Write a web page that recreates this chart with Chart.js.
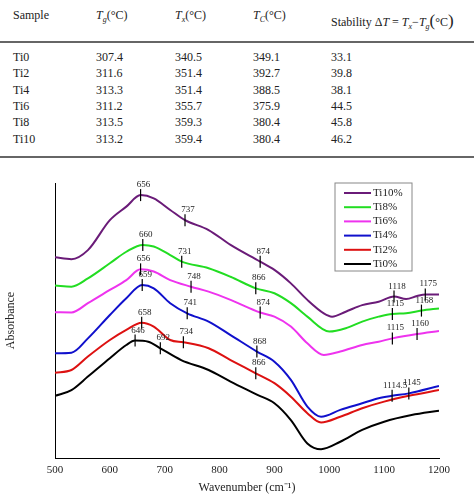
<!DOCTYPE html>
<html>
<head>
<meta charset="utf-8">
<script src="https://cdn.jsdelivr.net/npm/chart.js@4"></script>
<style>
  body { margin: 0; width: 474px; height: 495px; background: #fff; font-family: "Liberation Serif", serif; color: #222; position: relative; overflow: hidden; }
  .t { position: absolute; font-size: 12px; white-space: nowrap; }
  .rule { position: absolute; left: 0; width: 474px; height: 2px; background: #666; }
  #wrap { position: absolute; left: 0; top: 160px; width: 474px; height: 335px; }
</style>
</head>
<body>
<div id="table"></div>
<div class="rule" style="top:41px"></div>
<div class="rule" style="top:156px"></div>
<div id="wrap"><canvas id="c"></canvas></div>
<script>
// table data
const samples = ['Ti0', 'Ti2', 'Ti4', 'Ti6', 'Ti8', 'Ti10'];
const tg = ['307.4', '311.6', '313.3', '311.2', '313.5', '313.2'];
const tx = ['340.5', '351.4', '351.4', '355.7', '359.3', '359.4'];
const tc = ['349.1', '392.7', '388.5', '375.9', '380.4', '380.4'];
const dT = ['33.1', '39.8', '38.1', '44.5', '45.8', '46.2'];

// spectra (arbitrary absorbance units)
const ti10X = [500, 530, 560, 600, 630, 656, 680, 710, 737, 780, 820, 874, 900, 930, 960, 990, 1005, 1030, 1060, 1090, 1118, 1140, 1160, 1175, 1200];
const ti10Y = [73.0, 72.3, 75.6, 86.5, 91.4, 95.6, 94.4, 90.2, 86.5, 82.9, 77.5, 71.4, 68.4, 63.5, 57.5, 52.6, 51.4, 53.2, 55.6, 56.8, 58.7, 57.8, 58.9, 59.5, 59.5];
const ti8X = [500, 530, 560, 600, 630, 660, 680, 710, 731, 780, 820, 866, 900, 930, 960, 1000, 1030, 1060, 1090, 1115, 1140, 1168, 1200];
const ti8Y = [62.7, 62.3, 65.3, 70.8, 75.0, 77.5, 76.9, 73.8, 71.4, 69.0, 65.9, 61.7, 59.9, 56.3, 51.4, 46.0, 47.2, 49.6, 51.4, 52.4, 52.6, 53.6, 54.4];
const ti6X = [500, 530, 560, 600, 630, 656, 680, 710, 748, 780, 820, 874, 900, 930, 960, 990, 1020, 1060, 1090, 1115, 1160, 1200];
const ti6Y = [53.0, 52.9, 56.3, 61.1, 64.7, 68.6, 67.8, 64.7, 62.3, 60.5, 57.5, 52.9, 51.4, 47.8, 41.7, 37.5, 38.7, 41.1, 42.3, 43.5, 45.1, 46.2];
const ti4X = [500, 530, 560, 600, 630, 659, 680, 710, 741, 780, 820, 868, 900, 930, 960, 985, 1020, 1060, 1090, 1114.5, 1145, 1200];
const ti4Y = [38.1, 38.3, 43.5, 52.0, 58.1, 62.9, 61.7, 56.3, 52.6, 49.6, 44.7, 38.7, 35.0, 28.4, 18.7, 15.0, 17.5, 19.9, 21.7, 22.6, 23.5, 26.2];
const ti2X = [500, 530, 560, 600, 630, 658, 680, 710, 734, 780, 820, 866, 900, 930, 960, 985, 1020, 1060, 1100, 1145, 1200];
const ti2Y = [31.0, 32.0, 36.9, 42.9, 46.6, 49.2, 47.8, 42.9, 42.1, 39.9, 35.6, 30.8, 27.2, 22.3, 16.3, 12.9, 15.0, 18.1, 20.5, 22.6, 24.7];
const ti0X = [500, 530, 560, 600, 630, 646, 670, 692, 730, 780, 820, 870, 900, 930, 960, 985, 1020, 1060, 1100, 1150, 1200];
const ti0Y = [22.6, 24.7, 29.6, 36.3, 41.1, 42.7, 42.3, 39.9, 35.6, 32.0, 27.8, 22.9, 19.9, 13.8, 5.3, 3.2, 5.9, 10.2, 13.2, 15.6, 17.2];

// marked peaks per series
const ti10Peaks = [656, 737, 874, 1118, 1175];
const ti8Peaks = [660, 731, 866, 1115, 1168];
const ti6Peaks = [656, 748, 874, 1115, 1160];
const ti4Peaks = [659, 741, 868, 1114.5, 1145];
const ti2Peaks = [658, 734, 866];
const ti0Peaks = [646, 692];

const seriesNames = ['Ti10%', 'Ti8%', 'Ti6%', 'Ti4%', 'Ti2%', 'Ti0%'];
const colors = ['#6a1b78', '#22dd22', '#ee33ee', '#1010cc', '#dd1111', '#000000'];
const xs = [ti10X, ti8X, ti6X, ti4X, ti2X, ti0X];
const ys = [ti10Y, ti8Y, ti6Y, ti4Y, ti2Y, ti0Y];
const peaks = [ti10Peaks, ti8Peaks, ti6Peaks, ti4Peaks, ti2Peaks, ti0Peaks];

// build table
const cols = [13, 96, 175, 253, 331];
let html = '';
const hdr = ['Sample', '<i>T<sub style="font-size:8px">g</sub></i>(°C)', '<i>T<sub style="font-size:8px">x</sub></i>(°C)', '<i>T<sub style="font-size:8px">C</sub></i>(°C)',
  'Stability Δ<i>T</i> = <i>T<sub style="font-size:8px">x</sub></i>−<i>T<sub style="font-size:8px">g</sub></i><span style="font-size:17px">(</span>°C<span style="font-size:17px">)</span>'];
hdr.forEach((h, i) => { html += `<div class="t" style="left:${cols[i]}px;top:${i === 4 ? 11 : 8}px">${h}</div>`; });
samples.forEach((s, r) => {
  const row = [s, tg[r], tx[r], tc[r], dT[r]];
  row.forEach((v, i) => { html += `<div class="t" style="left:${cols[i]}px;top:${50 + r * 16.3}px">${v}</div>`; });
});
document.getElementById('table').innerHTML = html;

function interp(xa, ya, x) {
  for (let i = 1; i < xa.length; i++) {
    if (x <= xa[i]) {
      const t = (x - xa[i - 1]) / (xa[i] - xa[i - 1]);
      return ya[i - 1] + t * (ya[i] - ya[i - 1]);
    }
  }
  return ya[ya.length - 1];
}

const peakPlugin = {
  id: 'peaks',
  afterDatasetsDraw(chart) {
    const ctx = chart.ctx, sx = chart.scales.x, sy = chart.scales.y;
    ctx.save();
    ctx.strokeStyle = '#000';
    ctx.fillStyle = '#222';
    ctx.lineWidth = 1.2;
    ctx.font = '9px "Liberation Serif"';
    ctx.textAlign = 'center';
    peaks.forEach((pk, s) => {
      pk.forEach(p => {
        const px = sx.getPixelForValue(p);
        const py = sy.getPixelForValue(interp(xs[s], ys[s], p));
        ctx.beginPath();
        ctx.moveTo(px, py - 6);
        ctx.lineTo(px, py + 6);
        ctx.stroke();
        ctx.fillText(String(p), px + 3, py - 8);
      });
    });
    // legend box
    const lx = 335, ly = 23, lw = 77, lh = 88;
    ctx.strokeStyle = '#888';
    ctx.lineWidth = 1;
    ctx.strokeRect(lx, ly, lw, lh);
    ctx.font = '11px "Liberation Serif"';
    ctx.textAlign = 'left';
    ctx.textBaseline = 'middle';
    seriesNames.forEach((n, i) => {
      const yy = ly + 10 + i * 14.2;
      ctx.strokeStyle = colors[i];
      ctx.lineWidth = 2;
      ctx.beginPath();
      ctx.moveTo(lx + 9, yy);
      ctx.lineTo(lx + 36, yy);
      ctx.stroke();
      ctx.fillStyle = '#222';
      ctx.fillText(n, lx + 38, yy);
    });
    ctx.restore();
  }
};

new Chart(document.getElementById('c'), {
  type: 'line',
  data: {
    datasets: seriesNames.map((n, i) => ({
      label: n,
      data: xs[i].map((x, j) => ({ x: x, y: ys[i][j] })),
      borderColor: colors[i],
      borderWidth: 2,
      pointRadius: 0,
      cubicInterpolationMode: 'monotone',
      fill: false
    }))
  },
  options: {
    responsive: true,
    maintainAspectRatio: false,
    animation: false,
    layout: { padding: { top: 23, right: 35 } },
    plugins: { legend: { display: false }, tooltip: { enabled: false } },
    scales: {
      x: {
        type: 'linear', min: 500, max: 1200,
        grid: { display: false, drawTicks: true, tickLength: 4 },
        border: { color: '#000', width: 1 },
        ticks: { stepSize: 100, color: '#222', font: { family: 'Liberation Serif', size: 11 }, padding: 2, callback: v => String(v) },
        title: { display: true, text: 'Wavenumber (cm⁻¹)', color: '#222', font: { family: 'Liberation Serif', size: 12 }, padding: 0 },
        afterFit(s) { s.height = 37; }
      },
      y: {
        min: 0, max: 100,
        grid: { display: false },
        border: { color: '#000', width: 1 },
        ticks: { display: false },
        title: { display: true, text: 'Absorbance', color: '#222', font: { family: 'Liberation Serif', size: 12 } },
        afterFit(s) { s.width = 55; }
      }
    }
  },
  plugins: [peakPlugin]
});
</script>
</body>
</html>
